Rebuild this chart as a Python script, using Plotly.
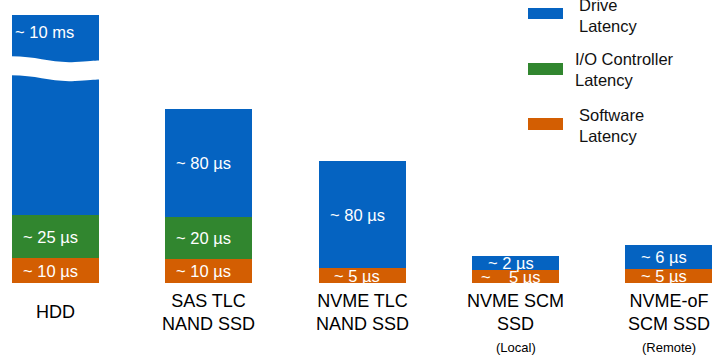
import plotly.graph_objects as go

# ---- data (schematic bar heights as drawn, and their labels) ----
categories = ["HDD", "SAS TLC<br>NAND SSD", "NVME TLC<br>NAND SSD", "NVME SCM<br>SSD", "NVME-oF<br>SCM SSD"]
sub_labels = ["", "", "", "(Local)", "(Remote)"]
series_names = ["Drive<br>Latency", "I/O Controller<br>Latency", "Software<br>Latency"]

software_h = [25, 24, 15, 13, 14]
controller_h = [43, 42, 0, 0, 0]
drive_h = [200, 108, 107, 14, 24]

software_lbl = ["~ 10 µs", "~ 10 µs", "~ 5 µs", "~\u00a0\u00a0\u00a0 5 µs", "~ 5 µs"]
controller_lbl = ["~ 25 µs", "~ 20 µs", "", "", ""]
drive_lbl = ["~ 10 ms", "~ 80 µs", "~ 80 µs", "~ 2 µs", "~ 6 µs"]

# ---- styles ----
BLUE = "#0563C1"
GREEN = "#31862F"
ORANGE = "#D35E02"
FONT = "Arial, Liberation Sans, sans-serif"
W, H = 712, 358
X0, DX = 55.6, 153.3       # pixel of first slot centre, pixels per slot
BASE = 283                 # pixel row of the bar baseline
BAR_W = 0.5675

xs = list(range(len(categories)))

def px_x(p):
    return (p - X0) / DX

def px_y(p):
    return BASE - p

fig = go.Figure()
for vals, col in [(software_h, ORANGE), (controller_h, GREEN), (drive_h, BLUE)]:
    fig.add_trace(go.Bar(x=xs, y=vals, marker=dict(color=col, line=dict(width=0)),
                         width=BAR_W, hoverinfo="skip", showlegend=False))

ann = []
for i in xs:
    s, c, d = software_h[i], controller_h[i], drive_h[i]
    ann.append(dict(x=i, y=s / 2, text=software_lbl[i], xshift=-5))
    if c > 0:
        ann.append(dict(x=i, y=s + c / 2, text=controller_lbl[i], xshift=-5))
    if i == 0:
        ann.append(dict(x=i - BAR_W / 2, y=s + c + d, text=drive_lbl[i], xanchor="left",
                        yanchor="top", xshift=1, yshift=-6))
    else:
        ann.append(dict(x=i, y=s + c + d / 2, text=drive_lbl[i], xshift=-5))
for a in ann:
    a.setdefault("xanchor", "center")
    a.setdefault("yanchor", "middle")
    a.update(xref="x", yref="y", showarrow=False, font=dict(family=FONT, size=16.5, color="white"))

# category labels
for i in xs:
    ann.append(dict(x=i, y=px_y(312), xref="x", yref="y", text=categories[i], showarrow=False,
                    xanchor="center", yanchor="middle",
                    font=dict(family=FONT, size=18, color="black")))
    if sub_labels[i]:
        ann.append(dict(x=i, y=px_y(347), xref="x", yref="y", text=sub_labels[i], showarrow=False,
                        xanchor="center", yanchor="middle",
                        font=dict(family=FONT, size=13, color="black")))

# manual legend
shapes = []
leg_cols = [BLUE, GREEN, ORANGE]
sw_y = [(8, 19), (63, 75), (118, 130)]
txt_x = [577, 573, 577]
txt_y = [15, 70, 125]
for k in range(3):
    shapes.append(dict(type="rect", xref="paper", yref="paper",
                       x0=528 / W, x1=563 / W, y0=1 - sw_y[k][1] / H, y1=1 - sw_y[k][0] / H,
                       fillcolor=leg_cols[k], line=dict(width=0)))
    ann.append(dict(x=txt_x[k] / W, y=1 - txt_y[k] / H, xref="paper", yref="paper",
                    text=series_names[k], showarrow=False, xanchor="left", yanchor="middle",
                    align="left", font=dict(family=FONT, size=16.5, color="#111")))

# axis break (white wave) on the HDD bar
def P(x, y):
    return f"{px_x(x):.4f},{px_y(y):.2f}"

path = ("M " + P(4, 56.5) + " C " + P(35, 55) + " " + P(50, 63.5) + " " + P(75, 62)
        + " C " + P(88, 61.5) + " " + P(95, 60.5) + " " + P(99, 60.5)
        + " L " + P(99, 79.5) + " C " + P(95, 79.5) + " " + P(88, 80.5) + " " + P(75, 81)
        + " C " + P(50, 82.5) + " " + P(35, 74) + " " + P(4, 75.5) + " Z")
shapes.append(dict(type="path", xref="x", yref="y", path=path,
                   fillcolor="white", line=dict(width=0), layer="above"))

fig.update_layout(
    width=W, height=H, margin=dict(l=0, r=0, t=0, b=0),
    barmode="stack", bargap=0,
    paper_bgcolor="white", plot_bgcolor="white",
    xaxis=dict(range=[px_x(0), px_x(W)], visible=False, fixedrange=True),
    yaxis=dict(range=[px_y(H), px_y(0)], visible=False, fixedrange=True),
    annotations=ann, shapes=shapes, showlegend=False,
)

fig.write_html("out.html", config={"staticPlot": True},
               post_script="document.body.style.margin='0';document.body.style.overflow='hidden';")
